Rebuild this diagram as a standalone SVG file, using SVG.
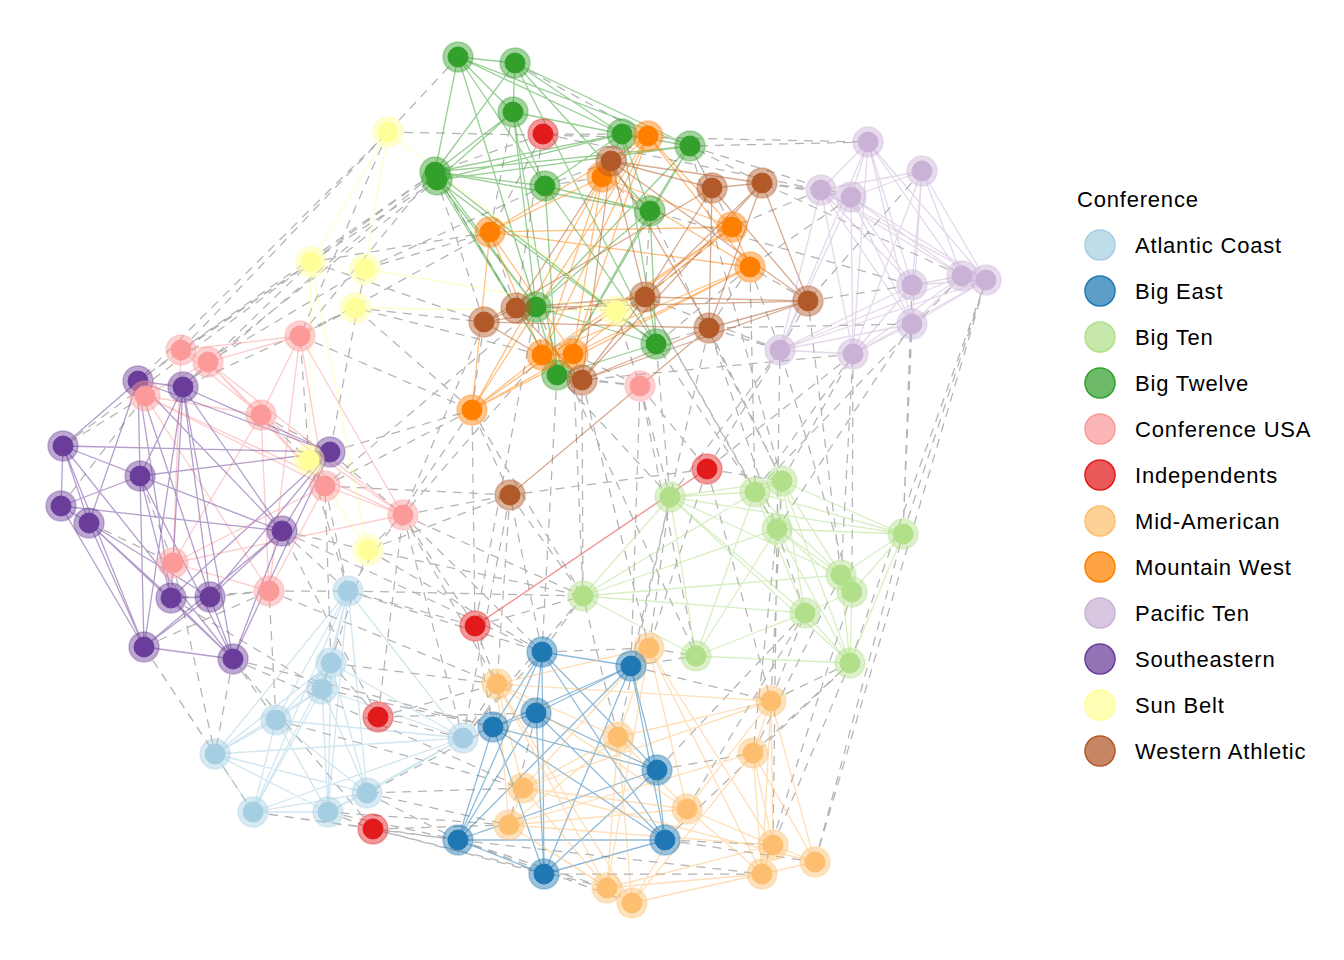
<svg xmlns="http://www.w3.org/2000/svg" width="1344" height="960" viewBox="0 0 1344 960">
<style>
.bg{fill:#fff}
.d{fill:none;stroke:#999;stroke-width:1.25;stroke-dasharray:9 7;stroke-opacity:.75}
.e{fill:none;stroke-width:1.3;stroke-opacity:.5}
.o{fill-opacity:.45;stroke-width:1.5;stroke-opacity:.35}
.lg circle{fill-opacity:.72;stroke-width:1.5}
text{font-family:"Liberation Sans",Arial,sans-serif;font-size:22px;letter-spacing:.8px;fill:#000}
.ac{fill:#a6cee3;stroke:#a6cee3}
.be{fill:#1f78b4;stroke:#1f78b4}
.bten{fill:#b2df8a;stroke:#b2df8a}
.btw{fill:#33a02c;stroke:#33a02c}
.cu{fill:#fb9a99;stroke:#fb9a99}
.ind{fill:#e31a1c;stroke:#e31a1c}
.ma{fill:#fdbf6f;stroke:#fdbf6f}
.mw{fill:#ff7f00;stroke:#ff7f00}
.pt{fill:#cab2d6;stroke:#cab2d6}
.se{fill:#6a3d9a;stroke:#6a3d9a}
.sb{fill:#ffff99;stroke:#ffff99}
.wa{fill:#b15928;stroke:#b15928}
</style>
<rect class="bg" x="0" y="0" width="1344" height="960"/>
<g id="connectors">
<path class="d" d="M543 134L435 172M543 134L490 232M543 134L516 308M543 134L821 190M707 469L510 495M707 469L782 481M707 469L780 350M707 469L771 701M475 626L348 591M475 626L403 515M475 626L493 727M475 626L497 684M475 626L583 596M475 626L536 307M378 717L331 663M378 717L463 738M378 717L536 713M378 717L497 684M378 717L282 531M378 717L403 515M373 829L253 812M373 829L458 840M373 829L544 874M373 829L509 825M373 829L233 659M388 132L868 142M388 132L458 57M388 132L300 336M388 132L138 381M311 262L181 350M311 262L138 381M311 262L435 172M311 262L484 322M365 269L545 186M365 269L490 232M365 269L208 362M365 269L330 452M355 308L300 336M355 308L484 322M355 308L183 387M616 311L645 297M616 311L542 355M616 311L640 386M309 460L330 452M309 460L325 486M309 460L348 591M368 550L403 515M368 550L282 531M368 550L322 689M368 550L542 652M368 550L510 495M616 311L656 344M309 460L300 336M181 350L138 381M208 362L183 387M300 336L435 172M300 336L472 410M145 396L63 446M261 415L309 460M325 486L348 591M403 515L542 652M403 515L497 684M403 515L463 738M403 515L510 495M173 563L140 476M173 563L215 754M269 591L348 591M269 591L171 598M640 386L582 380M640 386L557 375M640 386L670 497M640 386L707 469M640 386L631 666M269 591L497 684M261 415L330 452M403 515L583 596M63 446L311 262M144 647L215 754M144 647L269 591M210 597L269 591M171 598L322 689M233 659L493 727M89 523L173 563M330 452L472 410M330 452L403 515M282 531L348 591M282 531L542 652M233 659L523 788M144 647L253 812M183 387L435 172M233 659L276 720M61 506L145 396M348 591L583 596M348 591L542 652M331 663L497 684M322 689L493 727M276 720L523 788M253 812L458 840M328 812L458 840M328 812L373 829M367 793L458 840M367 793L509 825M463 738L493 727M463 738L542 652M463 738L497 684M463 738L583 596M331 663L325 486M276 720L269 591M542 652L583 596M542 652L649 648M631 666L696 656M631 666L771 701M536 713L509 825M493 727L367 793M657 770L805 613M657 770L753 753M458 840L607 888M458 840L762 874M665 840L850 663M665 840L815 862M544 874L762 874M631 666L670 497M542 652L510 495M665 840L773 845M649 648L696 656M649 648L670 497M771 701L850 663M771 701L805 613M753 753L841 575M753 753L850 663M773 845L850 663M815 862L986 280M815 862L903 534M762 874L852 592M618 737L583 596M523 788L367 793M687 809L805 613M773 845L777 529M607 888L373 829M632 903L458 840M771 701L782 481M618 737L670 497M509 825L328 812M670 497L656 344M755 492L656 344M755 492L853 354M782 481L853 354M782 481L709 328M777 529L780 350M903 534L912 324M903 534L912 285M841 575L808 301M852 592L780 350M583 596L582 380M583 596L472 410M850 663L986 280M777 529L753 753M755 492L645 297M782 481L690 146M841 575L853 354M805 613L709 328M903 534L986 280M780 350L808 301M780 350L709 328M780 350L750 267M821 190L762 183M851 197L762 183M851 197L690 146M821 190L732 227M868 142L690 146M922 171L808 301M912 285L808 301M962 276L762 183M912 324L709 328M853 354L852 592M853 354L582 380M912 285L650 211M912 324L777 529M962 276L755 492M853 354L707 469M780 350L645 297M851 197L750 267M611 161L622 134M611 161L648 136M611 161L545 186M712 188L690 146M712 188L732 227M762 183L690 146M645 297L650 211M645 297L732 227M808 301L750 267M709 328L750 267M516 308L435 172M516 308L490 232M484 322L437 180M484 322L472 410M582 380L557 375M582 380L573 354M510 495L472 410M536 307L542 355M656 344L750 267M557 375L542 355M650 211L602 177M545 186L602 177M513 112L490 232M515 63L648 136M622 134L543 134M690 146L732 227M437 180L311 262M435 172L181 350M472 410L325 486M472 410L355 308M490 232L311 262M542 355L355 308M656 344L709 328M573 354L640 386M536 307L616 311M181 350L388 132M208 362L437 180M183 387L311 262M300 336L490 232M233 659L215 754M510 495L583 596M510 495L497 684M472 410L475 626M557 375L670 497M536 307L696 656M582 380L649 648M573 354L583 596M640 386L696 656M557 375L542 652M645 297L777 529M650 211L782 481M750 267L755 492M709 328L670 497M780 350L670 497M707 469L649 648M542 355L403 515M484 322L403 515M536 307L325 486M472 410L348 591M510 495L463 738M368 550L583 596M325 486L510 495"/>
<path class="e" stroke="#33a02c" d="M458 57L515 63M458 57L513 112M458 57L435 172M458 57L545 186M458 57L622 134M458 57L690 146M458 57L536 307M458 57L557 375M515 63L513 112M515 63L435 172M515 63L622 134M515 63L690 146M515 63L650 211M515 63L656 344M513 112L435 172M513 112L437 180M513 112L545 186M513 112L622 134M513 112L536 307M513 112L557 375M435 172L437 180M435 172L545 186M435 172L622 134M435 172L690 146M435 172L650 211M435 172L536 307M435 172L656 344M435 172L557 375M437 180L622 134M437 180L690 146M437 180L656 344M437 180L557 375M437 180L536 307M545 186L622 134M545 186L650 211M545 186L656 344M545 186L557 375M622 134L690 146M622 134L650 211M622 134L656 344M690 146L650 211M690 146L536 307M690 146L557 375M650 211L536 307M650 211L656 344M650 211L557 375M536 307L656 344M536 307L557 375M656 344L557 375"/>
<path class="e" stroke="#ff7f00" d="M648 136L602 177M648 136L490 232M648 136L732 227M648 136L750 267M648 136L542 355M648 136L573 354M648 136L472 410M602 177L490 232M602 177L732 227M602 177L750 267M602 177L542 355M602 177L573 354M602 177L472 410M490 232L732 227M490 232L750 267M490 232L542 355M490 232L573 354M490 232L472 410M732 227L750 267M732 227L542 355M732 227L573 354M732 227L472 410M750 267L542 355M750 267L573 354M750 267L472 410M542 355L573 354M542 355L472 410M573 354L472 410"/>
<path class="e" stroke="#b15928" d="M611 161L712 188M611 161L762 183M611 161L645 297M611 161L808 301M611 161L709 328M611 161L516 308M611 161L582 380M712 188L762 183M712 188L645 297M712 188L808 301M712 188L709 328M712 188L484 322M762 183L645 297M762 183L808 301M762 183L709 328M762 183L582 380M645 297L808 301M645 297L516 308M645 297L484 322M645 297L582 380M808 301L709 328M808 301L516 308M808 301L582 380M709 328L484 322M709 328L582 380M709 328L510 495M516 308L484 322M516 308L582 380M484 322L582 380"/>
<path class="e" stroke="#cab2d6" d="M868 142L821 190M868 142L851 197M868 142L912 285M868 142L962 276M868 142L986 280M868 142L912 324M868 142L780 350M868 142L853 354M922 171L821 190M922 171L851 197M922 171L912 285M922 171L962 276M922 171L986 280M922 171L912 324M922 171L853 354M821 190L912 285M821 190L962 276M821 190L986 280M821 190L912 324M821 190L780 350M821 190L853 354M851 197L912 285M851 197L962 276M851 197L986 280M851 197L912 324M851 197L780 350M851 197L853 354M912 285L962 276M912 285L986 280M912 285L780 350M912 285L853 354M962 276L912 324M962 276L780 350M962 276L853 354M986 280L912 324M986 280L780 350M986 280L853 354M912 324L780 350M912 324L853 354M780 350L853 354"/>
<path class="e" stroke="#ffff99" stroke-opacity=".8" d="M388 132L311 262M388 132L365 269M388 132L616 311M311 262L309 460M311 262L368 550M365 269L355 308M365 269L616 311M355 308L616 311M309 460L368 550"/>
<path class="e" stroke="#fb9a99" d="M181 350L208 362M181 350L300 336M181 350L261 415M181 350L173 563M208 362L300 336M208 362L145 396M208 362L261 415M208 362L325 486M208 362L403 515M300 336L261 415M300 336L325 486M300 336L403 515M300 336L269 591M145 396L261 415M145 396L325 486M145 396L403 515M145 396L269 591M261 415L325 486M261 415L403 515M261 415L173 563M261 415L269 591M325 486L403 515M325 486L173 563M403 515L173 563M173 563L269 591M325 486L269 591"/>
<path class="e" stroke="#6a3d9a" d="M138 381L183 387M138 381L63 446M138 381L140 476M138 381L330 452M138 381L89 523M138 381L282 531M138 381L171 598M138 381L210 597M183 387L140 476M183 387L330 452M183 387L282 531M183 387L171 598M183 387L210 597M183 387L144 647M183 387L233 659M63 446L330 452M63 446L61 506M63 446L89 523M63 446L282 531M63 446L144 647M63 446L233 659M140 476L330 452M140 476L61 506M140 476L282 531M140 476L171 598M140 476L144 647M140 476L233 659M330 452L282 531M330 452L171 598M330 452L210 597M330 452L233 659M61 506L89 523M61 506L282 531M61 506L144 647M89 523L171 598M89 523L210 597M89 523L144 647M89 523L233 659M282 531L210 597M282 531L233 659M282 531L144 647M171 598L210 597M171 598L233 659M210 597L144 647M210 597L233 659M144 647L233 659"/>
<path class="e" stroke="#a6cee3" d="M348 591L331 663M348 591L322 689M348 591L276 720M348 591L215 754M348 591L253 812M348 591L328 812M348 591L367 793M348 591L463 738M331 663L322 689M331 663L276 720M331 663L215 754M331 663L253 812M331 663L328 812M331 663L367 793M331 663L463 738M322 689L276 720M322 689L215 754M322 689L253 812M322 689L328 812M322 689L367 793M322 689L463 738M276 720L215 754M276 720L253 812M276 720L328 812M276 720L367 793M276 720L463 738M215 754L253 812M215 754L328 812M215 754L367 793M215 754L463 738M253 812L328 812M253 812L367 793M253 812L463 738M328 812L367 793M328 812L463 738M367 793L463 738"/>
<path class="e" stroke="#1f78b4" d="M542 652L631 666M542 652L536 713M542 652L493 727M542 652L657 770M542 652L458 840M542 652L665 840M542 652L544 874M631 666L536 713M631 666L493 727M631 666L657 770M631 666L458 840M631 666L665 840M631 666L544 874M536 713L493 727M536 713L657 770M536 713L458 840M536 713L665 840M536 713L544 874M493 727L657 770M493 727L458 840M493 727L665 840M493 727L544 874M657 770L458 840M657 770L665 840M657 770L544 874M458 840L665 840M458 840L544 874M665 840L544 874"/>
<path class="e" stroke="#fdbf6f" d="M649 648L497 684M649 648L618 737M649 648L523 788M649 648L687 809M649 648L773 845M649 648L762 874M649 648L607 888M497 684L618 737M497 684L523 788M497 684L687 809M497 684L509 825M497 684L607 888M497 684L632 903M497 684L771 701M771 701L618 737M771 701L753 753M771 701L523 788M771 701L773 845M771 701L815 862M771 701L762 874M771 701L687 809M618 737L523 788M618 737L509 825M618 737L607 888M618 737L632 903M618 737L687 809M753 753L509 825M753 753L773 845M753 753L815 862M753 753L762 874M753 753L632 903M523 788L509 825M523 788L687 809M523 788L607 888M523 788L815 862M687 809L509 825M687 809L773 845M687 809L762 874M687 809L632 903M509 825L607 888M509 825L632 903M509 825L773 845M773 845L815 862M773 845L762 874M773 845L607 888M815 862L762 874M815 862L632 903M762 874L607 888M762 874L632 903M607 888L632 903"/>
<path class="e" stroke="#b2df8a" d="M670 497L755 492M670 497L782 481M670 497L903 534M670 497L841 575M670 497L805 613M670 497L583 596M670 497L696 656M670 497L850 663M755 492L782 481M755 492L777 529M755 492L903 534M755 492L841 575M755 492L805 613M755 492L583 596M755 492L696 656M782 481L777 529M782 481L903 534M782 481L841 575M782 481L852 592M782 481L805 613M782 481L850 663M777 529L903 534M777 529L841 575M777 529L852 592M777 529L583 596M777 529L696 656M777 529L850 663M903 534L841 575M903 534L852 592M903 534L850 663M841 575L852 592M841 575L583 596M841 575L850 663M852 592L805 613M852 592L850 663M805 613L583 596M805 613L696 656M805 613L850 663M583 596L696 656M696 656L850 663"/>
<path class="e" stroke="#e31a1c" d="M707 469L475 626"/>
</g>
<g id="nodes">
<g id="n-G1" class="btw"><circle class="o" cx="458" cy="57" r="15"/><circle cx="458" cy="57" r="10"/></g>
<g id="n-G2" class="btw"><circle class="o" cx="515" cy="63" r="15"/><circle cx="515" cy="63" r="10"/></g>
<g id="n-G3" class="btw"><circle class="o" cx="513" cy="112" r="15"/><circle cx="513" cy="112" r="10"/></g>
<g id="n-G4" class="btw"><circle class="o" cx="435" cy="172" r="15"/><circle cx="435" cy="172" r="10"/></g>
<g id="n-G5" class="btw"><circle class="o" cx="437" cy="180" r="15"/><circle cx="437" cy="180" r="10"/></g>
<g id="n-G6" class="btw"><circle class="o" cx="545" cy="186" r="15"/><circle cx="545" cy="186" r="10"/></g>
<g id="n-G7" class="btw"><circle class="o" cx="622" cy="134" r="15"/><circle cx="622" cy="134" r="10"/></g>
<g id="n-G8" class="btw"><circle class="o" cx="690" cy="146" r="15"/><circle cx="690" cy="146" r="10"/></g>
<g id="n-G9" class="btw"><circle class="o" cx="650" cy="211" r="15"/><circle cx="650" cy="211" r="10"/></g>
<g id="n-G10" class="btw"><circle class="o" cx="536" cy="307" r="15"/><circle cx="536" cy="307" r="10"/></g>
<g id="n-G11" class="btw"><circle class="o" cx="656" cy="344" r="15"/><circle cx="656" cy="344" r="10"/></g>
<g id="n-G12" class="btw"><circle class="o" cx="557" cy="375" r="15"/><circle cx="557" cy="375" r="10"/></g>
<g id="n-I1" class="ind"><circle class="o" cx="543" cy="134" r="15"/><circle cx="543" cy="134" r="10"/></g>
<g id="n-I2" class="ind"><circle class="o" cx="707" cy="469" r="15"/><circle cx="707" cy="469" r="10"/></g>
<g id="n-I3" class="ind"><circle class="o" cx="475" cy="626" r="15"/><circle cx="475" cy="626" r="10"/></g>
<g id="n-I4" class="ind"><circle class="o" cx="378" cy="717" r="15"/><circle cx="378" cy="717" r="10"/></g>
<g id="n-I5" class="ind"><circle class="o" cx="373" cy="829" r="15"/><circle cx="373" cy="829" r="10"/></g>
<g id="n-O1" class="mw"><circle class="o" cx="648" cy="136" r="15"/><circle cx="648" cy="136" r="10"/></g>
<g id="n-O2" class="mw"><circle class="o" cx="602" cy="177" r="15"/><circle cx="602" cy="177" r="10"/></g>
<g id="n-O3" class="mw"><circle class="o" cx="490" cy="232" r="15"/><circle cx="490" cy="232" r="10"/></g>
<g id="n-O4" class="mw"><circle class="o" cx="732" cy="227" r="15"/><circle cx="732" cy="227" r="10"/></g>
<g id="n-O5" class="mw"><circle class="o" cx="750" cy="267" r="15"/><circle cx="750" cy="267" r="10"/></g>
<g id="n-O6" class="mw"><circle class="o" cx="542" cy="355" r="15"/><circle cx="542" cy="355" r="10"/></g>
<g id="n-O7" class="mw"><circle class="o" cx="573" cy="354" r="15"/><circle cx="573" cy="354" r="10"/></g>
<g id="n-O8" class="mw"><circle class="o" cx="472" cy="410" r="15"/><circle cx="472" cy="410" r="10"/></g>
<g id="n-W1" class="wa"><circle class="o" cx="611" cy="161" r="15"/><circle cx="611" cy="161" r="10"/></g>
<g id="n-W2" class="wa"><circle class="o" cx="712" cy="188" r="15"/><circle cx="712" cy="188" r="10"/></g>
<g id="n-W3" class="wa"><circle class="o" cx="762" cy="183" r="15"/><circle cx="762" cy="183" r="10"/></g>
<g id="n-W4" class="wa"><circle class="o" cx="645" cy="297" r="15"/><circle cx="645" cy="297" r="10"/></g>
<g id="n-W5" class="wa"><circle class="o" cx="808" cy="301" r="15"/><circle cx="808" cy="301" r="10"/></g>
<g id="n-W6" class="wa"><circle class="o" cx="709" cy="328" r="15"/><circle cx="709" cy="328" r="10"/></g>
<g id="n-W7" class="wa"><circle class="o" cx="516" cy="308" r="15"/><circle cx="516" cy="308" r="10"/></g>
<g id="n-W8" class="wa"><circle class="o" cx="484" cy="322" r="15"/><circle cx="484" cy="322" r="10"/></g>
<g id="n-W9" class="wa"><circle class="o" cx="582" cy="380" r="15"/><circle cx="582" cy="380" r="10"/></g>
<g id="n-W10" class="wa"><circle class="o" cx="510" cy="495" r="15"/><circle cx="510" cy="495" r="10"/></g>
<g id="n-P1" class="pt"><circle class="o" cx="868" cy="142" r="15"/><circle cx="868" cy="142" r="10"/></g>
<g id="n-P2" class="pt"><circle class="o" cx="922" cy="171" r="15"/><circle cx="922" cy="171" r="10"/></g>
<g id="n-P3" class="pt"><circle class="o" cx="821" cy="190" r="15"/><circle cx="821" cy="190" r="10"/></g>
<g id="n-P4" class="pt"><circle class="o" cx="851" cy="197" r="15"/><circle cx="851" cy="197" r="10"/></g>
<g id="n-P5" class="pt"><circle class="o" cx="912" cy="285" r="15"/><circle cx="912" cy="285" r="10"/></g>
<g id="n-P6" class="pt"><circle class="o" cx="962" cy="276" r="15"/><circle cx="962" cy="276" r="10"/></g>
<g id="n-P7" class="pt"><circle class="o" cx="986" cy="280" r="15"/><circle cx="986" cy="280" r="10"/></g>
<g id="n-P8" class="pt"><circle class="o" cx="912" cy="324" r="15"/><circle cx="912" cy="324" r="10"/></g>
<g id="n-P9" class="pt"><circle class="o" cx="780" cy="350" r="15"/><circle cx="780" cy="350" r="10"/></g>
<g id="n-P10" class="pt"><circle class="o" cx="853" cy="354" r="15"/><circle cx="853" cy="354" r="10"/></g>
<g id="n-S1" class="sb"><circle class="o" cx="388" cy="132" r="15"/><circle cx="388" cy="132" r="10"/></g>
<g id="n-S2" class="sb"><circle class="o" cx="311" cy="262" r="15"/><circle cx="311" cy="262" r="10"/></g>
<g id="n-S3" class="sb"><circle class="o" cx="365" cy="269" r="15"/><circle cx="365" cy="269" r="10"/></g>
<g id="n-S4" class="sb"><circle class="o" cx="355" cy="308" r="15"/><circle cx="355" cy="308" r="10"/></g>
<g id="n-S5" class="sb"><circle class="o" cx="616" cy="311" r="15"/><circle cx="616" cy="311" r="10"/></g>
<g id="n-C1" class="cu"><circle class="o" cx="181" cy="350" r="15"/><circle cx="181" cy="350" r="10"/></g>
<g id="n-C2" class="cu"><circle class="o" cx="208" cy="362" r="15"/><circle cx="208" cy="362" r="10"/></g>
<g id="n-C3" class="cu"><circle class="o" cx="300" cy="336" r="15"/><circle cx="300" cy="336" r="10"/></g>
<g id="n-E1" class="se"><circle class="o" cx="138" cy="381" r="15"/><circle cx="138" cy="381" r="10"/></g>
<g id="n-C4" class="cu"><circle class="o" cx="145" cy="396" r="15"/><circle cx="145" cy="396" r="10"/></g>
<g id="n-E2" class="se"><circle class="o" cx="183" cy="387" r="15"/><circle cx="183" cy="387" r="10"/></g>
<g id="n-C5" class="cu"><circle class="o" cx="261" cy="415" r="15"/><circle cx="261" cy="415" r="10"/></g>
<g id="n-E3" class="se"><circle class="o" cx="63" cy="446" r="15"/><circle cx="63" cy="446" r="10"/></g>
<g id="n-E4" class="se"><circle class="o" cx="140" cy="476" r="15"/><circle cx="140" cy="476" r="10"/></g>
<g id="n-E5" class="se"><circle class="o" cx="330" cy="452" r="15"/><circle cx="330" cy="452" r="10"/></g>
<g id="n-S6" class="sb"><circle class="o" cx="309" cy="460" r="15"/><circle cx="309" cy="460" r="10"/></g>
<g id="n-C6" class="cu"><circle class="o" cx="325" cy="486" r="15"/><circle cx="325" cy="486" r="10"/></g>
<g id="n-C7" class="cu"><circle class="o" cx="403" cy="515" r="15"/><circle cx="403" cy="515" r="10"/></g>
<g id="n-E6" class="se"><circle class="o" cx="61" cy="506" r="15"/><circle cx="61" cy="506" r="10"/></g>
<g id="n-E7" class="se"><circle class="o" cx="89" cy="523" r="15"/><circle cx="89" cy="523" r="10"/></g>
<g id="n-E8" class="se"><circle class="o" cx="282" cy="531" r="15"/><circle cx="282" cy="531" r="10"/></g>
<g id="n-S7" class="sb"><circle class="o" cx="368" cy="550" r="15"/><circle cx="368" cy="550" r="10"/></g>
<g id="n-C8" class="cu"><circle class="o" cx="173" cy="563" r="15"/><circle cx="173" cy="563" r="10"/></g>
<g id="n-C9" class="cu"><circle class="o" cx="269" cy="591" r="15"/><circle cx="269" cy="591" r="10"/></g>
<g id="n-C10" class="cu"><circle class="o" cx="640" cy="386" r="15"/><circle cx="640" cy="386" r="10"/></g>
<g id="n-E9" class="se"><circle class="o" cx="171" cy="598" r="15"/><circle cx="171" cy="598" r="10"/></g>
<g id="n-E10" class="se"><circle class="o" cx="210" cy="597" r="15"/><circle cx="210" cy="597" r="10"/></g>
<g id="n-E11" class="se"><circle class="o" cx="144" cy="647" r="15"/><circle cx="144" cy="647" r="10"/></g>
<g id="n-E12" class="se"><circle class="o" cx="233" cy="659" r="15"/><circle cx="233" cy="659" r="10"/></g>
<g id="n-A1" class="ac"><circle class="o" cx="348" cy="591" r="15"/><circle cx="348" cy="591" r="10"/></g>
<g id="n-A2" class="ac"><circle class="o" cx="331" cy="663" r="15"/><circle cx="331" cy="663" r="10"/></g>
<g id="n-A3" class="ac"><circle class="o" cx="322" cy="689" r="15"/><circle cx="322" cy="689" r="10"/></g>
<g id="n-A4" class="ac"><circle class="o" cx="276" cy="720" r="15"/><circle cx="276" cy="720" r="10"/></g>
<g id="n-A5" class="ac"><circle class="o" cx="215" cy="754" r="15"/><circle cx="215" cy="754" r="10"/></g>
<g id="n-A6" class="ac"><circle class="o" cx="253" cy="812" r="15"/><circle cx="253" cy="812" r="10"/></g>
<g id="n-A7" class="ac"><circle class="o" cx="328" cy="812" r="15"/><circle cx="328" cy="812" r="10"/></g>
<g id="n-A8" class="ac"><circle class="o" cx="367" cy="793" r="15"/><circle cx="367" cy="793" r="10"/></g>
<g id="n-A9" class="ac"><circle class="o" cx="463" cy="738" r="15"/><circle cx="463" cy="738" r="10"/></g>
<g id="n-M1" class="ma"><circle class="o" cx="649" cy="648" r="15"/><circle cx="649" cy="648" r="10"/></g>
<g id="n-M2" class="ma"><circle class="o" cx="497" cy="684" r="15"/><circle cx="497" cy="684" r="10"/></g>
<g id="n-M3" class="ma"><circle class="o" cx="771" cy="701" r="15"/><circle cx="771" cy="701" r="10"/></g>
<g id="n-M4" class="ma"><circle class="o" cx="618" cy="737" r="15"/><circle cx="618" cy="737" r="10"/></g>
<g id="n-M5" class="ma"><circle class="o" cx="753" cy="753" r="15"/><circle cx="753" cy="753" r="10"/></g>
<g id="n-M6" class="ma"><circle class="o" cx="523" cy="788" r="15"/><circle cx="523" cy="788" r="10"/></g>
<g id="n-M7" class="ma"><circle class="o" cx="687" cy="809" r="15"/><circle cx="687" cy="809" r="10"/></g>
<g id="n-M8" class="ma"><circle class="o" cx="509" cy="825" r="15"/><circle cx="509" cy="825" r="10"/></g>
<g id="n-M9" class="ma"><circle class="o" cx="773" cy="845" r="15"/><circle cx="773" cy="845" r="10"/></g>
<g id="n-M10" class="ma"><circle class="o" cx="815" cy="862" r="15"/><circle cx="815" cy="862" r="10"/></g>
<g id="n-M11" class="ma"><circle class="o" cx="762" cy="874" r="15"/><circle cx="762" cy="874" r="10"/></g>
<g id="n-M12" class="ma"><circle class="o" cx="607" cy="888" r="15"/><circle cx="607" cy="888" r="10"/></g>
<g id="n-M13" class="ma"><circle class="o" cx="632" cy="903" r="15"/><circle cx="632" cy="903" r="10"/></g>
<g id="n-B1" class="be"><circle class="o" cx="542" cy="652" r="15"/><circle cx="542" cy="652" r="10"/></g>
<g id="n-B2" class="be"><circle class="o" cx="631" cy="666" r="15"/><circle cx="631" cy="666" r="10"/></g>
<g id="n-B3" class="be"><circle class="o" cx="536" cy="713" r="15"/><circle cx="536" cy="713" r="10"/></g>
<g id="n-B4" class="be"><circle class="o" cx="493" cy="727" r="15"/><circle cx="493" cy="727" r="10"/></g>
<g id="n-B5" class="be"><circle class="o" cx="657" cy="770" r="15"/><circle cx="657" cy="770" r="10"/></g>
<g id="n-B6" class="be"><circle class="o" cx="458" cy="840" r="15"/><circle cx="458" cy="840" r="10"/></g>
<g id="n-B7" class="be"><circle class="o" cx="665" cy="840" r="15"/><circle cx="665" cy="840" r="10"/></g>
<g id="n-B8" class="be"><circle class="o" cx="544" cy="874" r="15"/><circle cx="544" cy="874" r="10"/></g>
<g id="n-T1" class="bten"><circle class="o" cx="670" cy="497" r="15"/><circle cx="670" cy="497" r="10"/></g>
<g id="n-T2" class="bten"><circle class="o" cx="755" cy="492" r="15"/><circle cx="755" cy="492" r="10"/></g>
<g id="n-T3" class="bten"><circle class="o" cx="782" cy="481" r="15"/><circle cx="782" cy="481" r="10"/></g>
<g id="n-T4" class="bten"><circle class="o" cx="777" cy="529" r="15"/><circle cx="777" cy="529" r="10"/></g>
<g id="n-T5" class="bten"><circle class="o" cx="903" cy="534" r="15"/><circle cx="903" cy="534" r="10"/></g>
<g id="n-T6" class="bten"><circle class="o" cx="841" cy="575" r="15"/><circle cx="841" cy="575" r="10"/></g>
<g id="n-T7" class="bten"><circle class="o" cx="852" cy="592" r="15"/><circle cx="852" cy="592" r="10"/></g>
<g id="n-T8" class="bten"><circle class="o" cx="805" cy="613" r="15"/><circle cx="805" cy="613" r="10"/></g>
<g id="n-T9" class="bten"><circle class="o" cx="583" cy="596" r="15"/><circle cx="583" cy="596" r="10"/></g>
<g id="n-T10" class="bten"><circle class="o" cx="696" cy="656" r="15"/><circle cx="696" cy="656" r="10"/></g>
<g id="n-T11" class="bten"><circle class="o" cx="850" cy="663" r="15"/><circle cx="850" cy="663" r="10"/></g>
</g>
<g id="legend" class="lg">
<text x="1077" y="207">Conference</text>
<circle class="ac" cx="1100" cy="245" r="15"/><text x="1135" y="253">Atlantic Coast</text>
<circle class="be" cx="1100" cy="291" r="15"/><text x="1135" y="299">Big East</text>
<circle class="bten" cx="1100" cy="337" r="15"/><text x="1135" y="345">Big Ten</text>
<circle class="btw" cx="1100" cy="383" r="15"/><text x="1135" y="391">Big Twelve</text>
<circle class="cu" cx="1100" cy="429" r="15"/><text x="1135" y="437">Conference USA</text>
<circle class="ind" cx="1100" cy="475" r="15"/><text x="1135" y="483">Independents</text>
<circle class="ma" cx="1100" cy="521" r="15"/><text x="1135" y="529">Mid-American</text>
<circle class="mw" cx="1100" cy="567" r="15"/><text x="1135" y="575">Mountain West</text>
<circle class="pt" cx="1100" cy="613" r="15"/><text x="1135" y="621">Pacific Ten</text>
<circle class="se" cx="1100" cy="659" r="15"/><text x="1135" y="667">Southeastern</text>
<circle class="sb" cx="1100" cy="705" r="15"/><text x="1135" y="713">Sun Belt</text>
<circle class="wa" cx="1100" cy="751" r="15"/><text x="1135" y="759">Western Athletic</text>
</g>
</svg>
